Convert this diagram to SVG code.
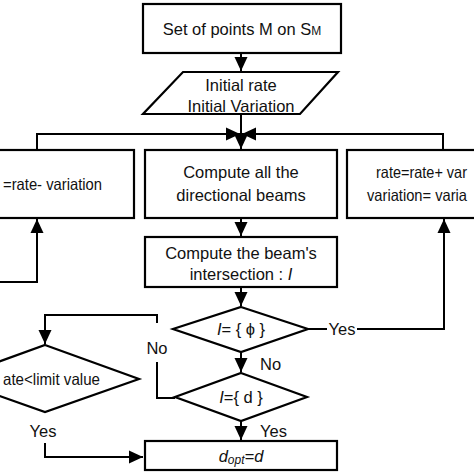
<svg xmlns="http://www.w3.org/2000/svg" width="474" height="474" viewBox="0 0 474 474">
<style>
.s{fill:#fff;stroke:#000;stroke-width:2.2}
.l{fill:none;stroke:#000;stroke-width:2}
text{font-family:"Liberation Sans",Arial,sans-serif;font-size:16.5px;fill:#111}
.c{text-anchor:middle}
</style>
<defs>
<marker id="a" viewBox="0 0 14 14" refX="14" refY="7" markerWidth="14" markerHeight="14" markerUnits="userSpaceOnUse" orient="auto">
<path d="M0,0.5 L14,7 L0,13.5 Z" fill="#000"/>
</marker>
</defs>
<rect width="474" height="474" fill="#fff"/>
<g id="connectors">
<path class="l" d="M241,53 V71" marker-end="url(#a)"/>
<path class="l" d="M241,114 V149" marker-end="url(#a)"/>
<path class="l" d="M37,150 V134 H240" marker-end="url(#a)"/>
<path class="l" d="M443,150 V134 H242" marker-end="url(#a)"/>
<path class="l" d="M241,218 V236" marker-end="url(#a)"/>
<path class="l" d="M0,282 H37 V219" marker-end="url(#a)"/>
<path class="l" d="M241,287 V306" marker-end="url(#a)"/>
<path class="l" d="M308,329 H327 M357,329 H444 V219" marker-end="url(#a)"/>
<path class="l" d="M241,352 V372" marker-end="url(#a)"/>
<path class="l" d="M175,398 H157 V362 M157,323 V315 H45 V344" marker-end="url(#a)"/>
<path class="l" d="M241,421 V440" marker-end="url(#a)"/>
<path class="l" d="M45,443 V457 H143" marker-end="url(#a)"/>
</g>
<g id="start">
<rect class="s" x="143" y="4" width="198" height="49"/>
<text x="242" y="35" class="c">Set of  points M on S<tspan font-size="12">M</tspan></text>
</g>
<g id="init">
<path class="s" d="M183,72 H338 L300,114 H143 Z"/>
<text x="241" y="91" class="c">Initial rate</text>
<text x="241" y="112" class="c">Initial Variation</text>
</g>
<g id="decrease">
<rect class="s" x="-10" y="150" width="144" height="68"/>
<text x="3" y="190" textLength="99" lengthAdjust="spacingAndGlyphs">=rate- variation</text>
</g>
<g id="beams">
<rect class="s" x="145" y="150" width="192" height="68"/>
<text x="241" y="178" class="c">Compute all the</text>
<text x="241" y="201" class="c">directional beams</text>
</g>
<g id="increase">
<rect class="s" x="347" y="150" width="140" height="68"/>
<text x="376" y="178" textLength="91" lengthAdjust="spacingAndGlyphs">rate=rate+ var</text>
<text x="367" y="201" textLength="100" lengthAdjust="spacingAndGlyphs">variation= varia</text>
</g>
<g id="intersection">
<rect class="s" x="145" y="237" width="192" height="50"/>
<text x="241" y="259" class="c">Compute the beam's</text>
<text x="241" y="280" class="c">intersection : <tspan font-style="italic">I</tspan></text>
</g>
<g id="empty">
<path class="s" d="M241,307 L308,329 L241,352 L173,329 Z"/>
<text x="241" y="335" class="c"><tspan font-style="italic">I</tspan>=  { ϕ }</text>
</g>
<g id="single">
<path class="s" d="M241,373 L307,397 L241,421 L175,397 Z"/>
<text x="241" y="403" class="c"><tspan font-style="italic">I</tspan>={ d }</text>
</g>
<g id="limit">
<path class="s" d="M45,345 L139,379 L45,412 L-49,379 Z"/>
<text x="3" y="385" textLength="97" lengthAdjust="spacingAndGlyphs">ate&lt;limit value</text>
</g>
<g id="result">
<rect class="s" x="145" y="441" width="192" height="29"/>
<text x="241" y="462" class="c" font-style="italic" font-size="17">d<tspan font-size="12" dy="2">opt</tspan><tspan dy="-2">=d</tspan></text>
</g>
<g id="labels">
<text x="342" y="335" class="c">Yes</text>
<text x="157" y="354" class="c">No</text>
<text x="260" y="370">No</text>
<text x="260" y="437">Yes</text>
<text x="43" y="437" class="c">Yes</text>
</g>
</svg>
